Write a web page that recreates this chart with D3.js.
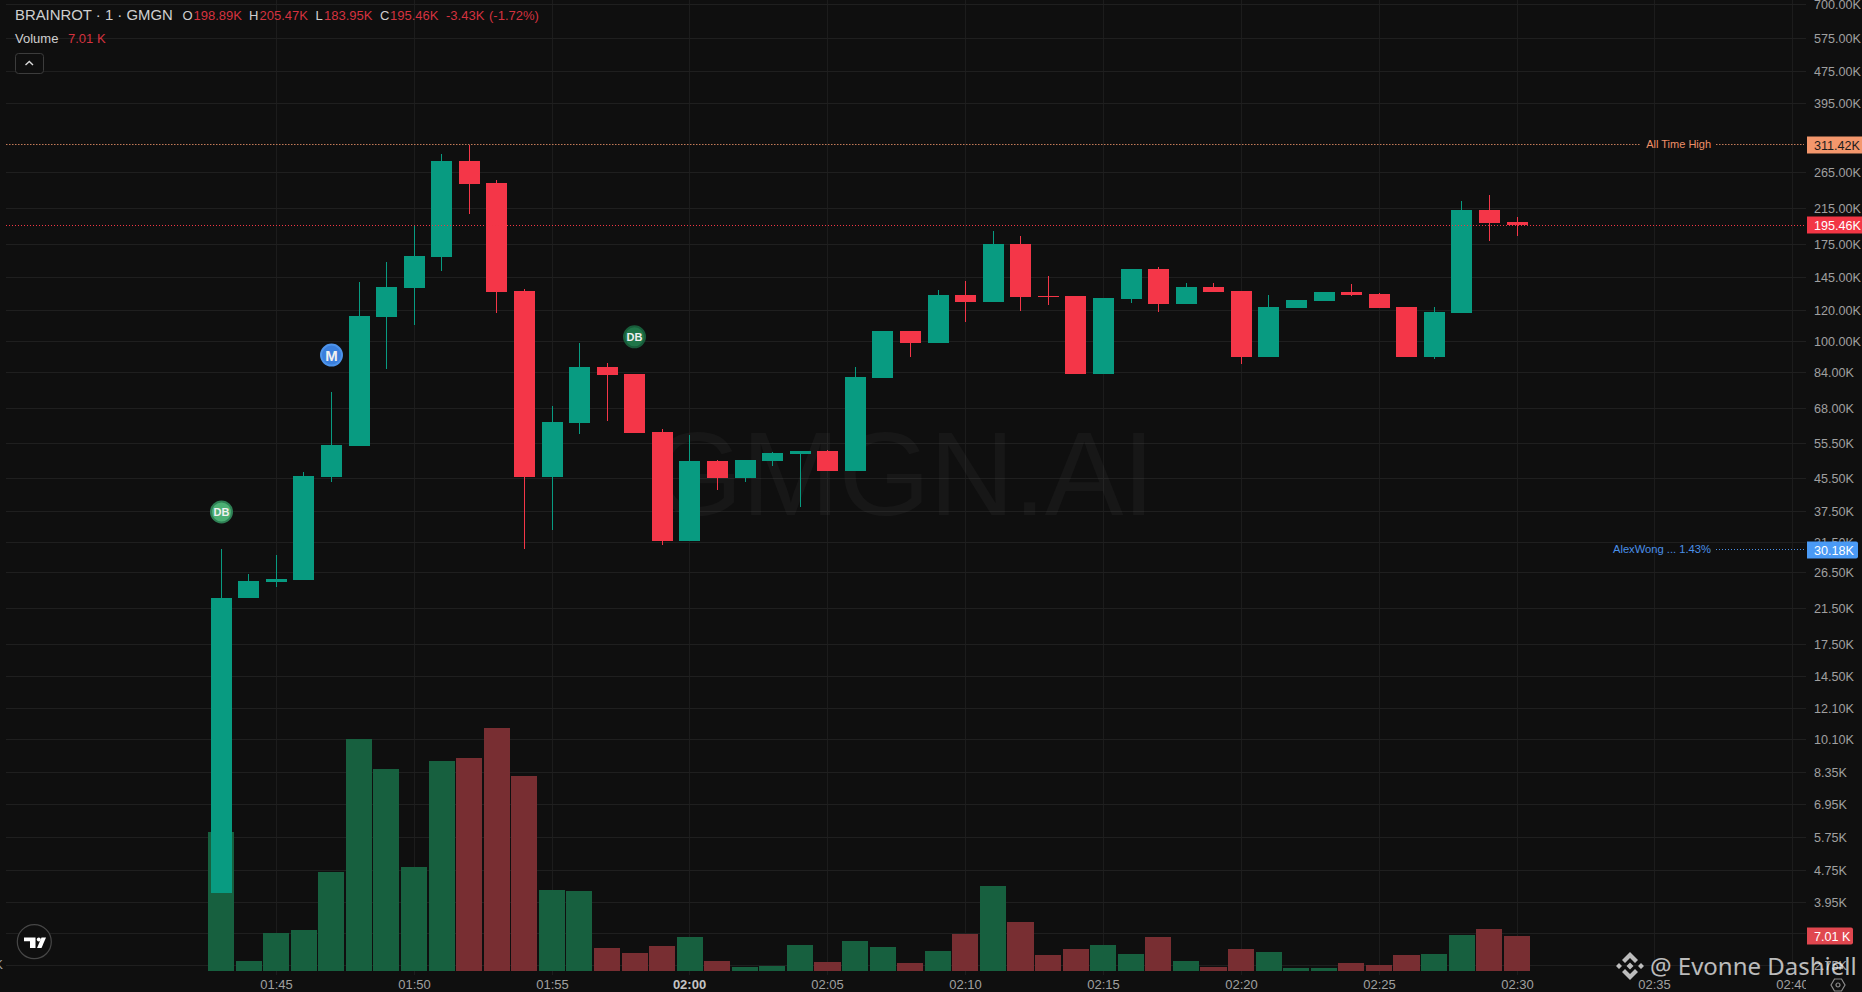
<!DOCTYPE html>
<html><head><meta charset="utf-8">
<script src="https://cdn.jsdelivr.net/npm/d3@7"></script>
<style>
html,body{margin:0;padding:0;background:#0f0f0f;overflow:hidden}
svg{display:block;font-family:"Liberation Sans",Arial,sans-serif}
</style></head><body>
<svg id="c" width="1862" height="992"></svg>
<script>
const times=["01:43","01:44","01:45","01:46","01:47","01:48","01:49","01:50","01:51","01:52","01:53","01:54","01:55","01:56","01:57","01:58","01:59","02:00","02:01","02:02","02:03","02:04","02:05","02:06","02:07","02:08","02:09","02:10","02:11","02:12","02:13","02:14","02:15","02:16","02:17","02:18","02:19","02:20","02:21","02:22","02:23","02:24","02:25","02:26","02:27","02:28","02:29","02:30"];
const opens=[4.18,22.8,25.0,25.3,45.9,54.8,115.3,136.2,162.8,283.1,249.4,133.9,45.9,62.6,86.4,83.0,59.4,31.7,50.3,45.6,50.3,52.4,53.3,47.5,81.1,106.3,99.2,130.8,125.7,175.5,130.1,130.1,83.0,127.9,152.0,124.2,137.0,133.9,91.5,121.4,126.4,133.1,131.6,122.1,91.5,117.9,213.5,198.89];
const highs=[30.3,26.2,29.3,47.2,74.8,141.0,158.2,195.5,294.8,311.42,253.8,135.4,69.0,99.2,88.4,83.0,60.5,58.4,50.6,50.6,53.0,53.3,53.6,86.4,106.3,106.3,134.7,141.8,189.2,183.8,146.0,130.1,128.6,152.0,153.7,140.2,140.2,133.9,130.8,127.1,133.1,139.4,132.3,122.1,122.1,224.8,232.7,205.47];
const lows=[4.18,22.8,24.4,25.3,44.6,54.8,85.4,110.1,150.2,208.6,117.9,30.3,33.8,58.7,63.3,59.1,31.0,31.7,42.5,44.6,48.9,38.6,47.5,47.5,81.1,91.5,99.2,112.0,125.7,119.3,123.5,83.0,83.0,124.9,118.6,124.2,133.1,87.9,91.5,121.4,126.4,130.1,121.4,91.5,90.5,117.9,178.6,183.95];
const closes=[22.9,25.2,25.5,46.1,55.1,115.9,137.0,163.8,283.1,248.0,133.1,45.9,63.0,86.4,82.5,59.1,31.7,50.3,45.6,50.6,52.7,53.3,47.5,81.6,106.3,99.2,130.8,125.7,175.5,129.3,129.3,83.0,128.6,152.0,124.2,137.0,133.1,91.5,122.1,127.1,133.1,130.8,121.4,91.5,118.6,213.5,198.1,195.46];
const volumes=[27.8,2.0,7.6,8.2,19.8,46.4,40.4,20.8,42.0,42.6,48.6,39.0,16.2,16.0,4.6,3.6,5.0,6.8,2.0,0.8,1.0,5.2,1.8,6.0,4.8,1.6,4.0,7.4,17.0,9.8,3.2,4.4,5.2,3.4,6.8,2.0,0.8,4.4,3.8,0.6,0.6,1.6,1.2,3.2,3.4,7.2,8.4,7.01];
const priceTicks=[700,575,475,395,265,215,175,145,120,100,84,68,55.5,45.5,37.5,31.5,26.5,21.5,17.5,14.5,12.1,10.1,8.35,6.95,5.75,4.75,3.95,3.3,2.75];
const timeTicks=["01:45","01:50","01:55","02:00","02:05","02:10","02:15","02:20","02:25","02:30","02:35","02:40"];
const lastClose=195.46, athPrice=311.42, holderPrice=30.18, lastVolume=7.01;
const badges=[{t:"01:43",p:37.5,k:"DB",f:"#4caf74",s:"#2f8055"},{t:"01:47",p:92.6,k:"M",f:"#3a7fdc",s:"#4d93ea"},{t:"01:58",p:102.9,k:"DB",f:"#1f7548",s:"#185c3a"}];

const W=1862,H=992,plotL=6,plotR=1806,axisY=975;
const pt=d3.utcParse("%H:%M"), fmt=d3.utcFormat("%H:%M");
const svg=d3.select("#c");
svg.append("defs").append("clipPath").attr("id","plot").append("rect").attr("x",0).attr("y",0).attr("width",plotR).attr("height",H);

const x=d3.scaleUtc().domain([pt("01:43"),pt("02:40")]).range([221.25,1792.74]);
const y=d3.scaleLog().domain([716.4,2.5]).range([0,982.0]);
const yv=d3.scaleLinear().domain([0,48.6]).range([971,728]);
const K=v=>v.toFixed(2)+"K";
const GRID="#1f1f1f", TXT="#a0a0a0";
const GREEN="#089b81", RED="#f43648", VG="#17603f", VR="#782e32";

// grid + axes
const gx=svg.append("g").attr("clip-path","url(#plot)").append("g").attr("transform",`translate(0,${axisY})`)
 .call(d3.axisBottom(x).tickValues(timeTicks.map(pt)).tickSize(-axisY).tickPadding(10).tickFormat(fmt));
gx.select(".domain").remove();
gx.selectAll(".tick").attr("transform",d=>`translate(${Math.floor(x(d))+.5},0)`);
gx.selectAll("line").attr("stroke","#1c1c1c");
gx.selectAll("text").attr("fill",d=>fmt(d)==="02:00"?"#c4c4c4":TXT).attr("font-size",13)
 .attr("font-weight",d=>fmt(d)==="02:00"?"700":"400").attr("font-family","Liberation Sans").attr("dy",".32em");

const gy=svg.append("g").attr("transform",`translate(${plotR},0)`)
 .call(d3.axisRight(y).tickValues(priceTicks).tickSize(-(plotR-plotL)).tickPadding(8).tickFormat(K));
gy.select(".domain").remove();
gy.selectAll(".tick").attr("transform",d=>`translate(0,${Math.floor(y(d))+.5})`);
gy.selectAll("line").attr("stroke",GRID);
gy.selectAll("text").attr("fill",TXT).attr("font-size",12.6).attr("font-family","Liberation Sans");

// watermark
svg.append("text").attr("x",651).attr("y",515).attr("font-size",118).attr("fill","rgba(255,255,255,0.035)")
 .attr("textLength",504).attr("lengthAdjust","spacing").text("GMGN.AI");

// volume
svg.append("g").selectAll("rect").data(volumes).join("rect")
 .attr("x",(d,i)=>Math.round(x(pt(times[i]))-13.3))
 .attr("width",(d,i)=>Math.round(x(pt(times[i]))+12.8)-Math.round(x(pt(times[i]))-13.3))
 .attr("y",d=>Math.round(yv(d)))
 .attr("height",d=>yv(0)-Math.round(yv(d)))
 .attr("fill",(d,i)=>closes[i]>=opens[i]?VG:VR);

// candles
const cg=svg.append("g").selectAll("g").data(times).join("g");
cg.append("rect")
 .attr("x",t=>Math.floor(x(pt(t)))).attr("width",1)
 .attr("y",(t,i)=>Math.round(y(highs[i])))
 .attr("height",(t,i)=>Math.round(y(lows[i]))-Math.round(y(highs[i])))
 .attr("fill",(t,i)=>closes[i]>=opens[i]?GREEN:RED);
cg.append("rect")
 .attr("x",t=>Math.floor(x(pt(t)))-10).attr("width",21)
 .attr("y",(t,i)=>Math.round(y(Math.max(opens[i],closes[i]))))
 .attr("height",(t,i)=>Math.max(1,Math.round(y(Math.min(opens[i],closes[i])))-Math.round(y(Math.max(opens[i],closes[i])))))
 .attr("fill",(t,i)=>closes[i]>=opens[i]?GREEN:RED);

// price lines
const hline=(p,x1,x2,c,dash)=>svg.append("line").attr("x1",x1).attr("x2",x2)
 .attr("y1",Math.floor(y(p))+.5).attr("y2",Math.floor(y(p))+.5).attr("stroke",c).attr("stroke-dasharray",dash);
hline(athPrice,plotL,1640,"#c47a58","1.5 1.5");
hline(athPrice,1716,1804,"#c47a58","1.5 1.5");
hline(lastClose,plotL,1804,"#f23645","1 2");
hline(holderPrice,1716,1804,"#4a90e8","1 2");
svg.append("text").attr("x",1711).attr("y",y(athPrice)).attr("dy",".32em").attr("text-anchor","end").attr("font-size",11).attr("fill","#ee9068").text("All Time High");
svg.append("text").attr("x",1711).attr("y",y(holderPrice)).attr("dy",".32em").attr("text-anchor","end").attr("font-size",11.2).attr("fill","#4a90e8").text("AlexWong ... 1.43%");

// axis tags
const tag=(p,scale,label,w,bg,fg,fw,r)=>{
 const c=Math.round(scale(p));
 const top=c-8.5;
 svg.append("path").attr("d",`M1807,${top}H${1807+w-r}Q${1807+w},${top} ${1807+w},${top+r}V${top+17-r}Q${1807+w},${top+17} ${1807+w-r},${top+17}H1807Z`).attr("fill",bg);
 svg.append("text").attr("x",1814).attr("y",c).attr("dy",".36em").attr("font-size",12.6).attr("fill",fg).attr("font-weight",fw).text(label);
};
tag(athPrice,y,K(athPrice),55,"#f4976c","#1c1c1c",400,0);
tag(lastClose,y,K(lastClose),55,"#f23645","#ffffff",400,0);
tag(holderPrice,y,K(holderPrice),51,"#4a9af5","#ffffff",400,2);
tag(lastVolume,yv,lastVolume.toFixed(2)+" K",46,"#e0474f","#ffffff",400,2);

// badges
const bg=svg.append("g").selectAll("g").data(badges).join("g")
 .attr("transform",d=>`translate(${Math.floor(x(pt(d.t)))+.5},${y(d.p)})`);
bg.append("circle").attr("r",10.5).attr("fill",d=>d.f).attr("stroke",d=>d.s).attr("stroke-width",2);
bg.append("text").attr("text-anchor","middle").attr("dy",".36em").attr("fill","#f0f0f0").attr("font-weight",700)
 .attr("font-size",d=>d.k==="M"?15:11).text(d=>d.k);

// legend
const leg=svg.append("g");
const lt=(tx,ty,s,c,fs)=>leg.append("text").attr("x",tx).attr("y",ty).attr("dy",".36em").attr("fill",c).attr("font-size",fs).text(s);
const L1="#cfcfcf",LR="#d4323f";
lt(15,15,"BRAINROT · 1 · GMGN",L1,14.9);
[["O",182.5,opens[47],193.5],["H",249,highs[47],259.5],["L",315.5,lows[47],324],["C",380,closes[47],390]].forEach(a=>{
 lt(a[1],15,a[0],L1,13); lt(a[3],15,K(a[2]),LR,13);
});
lt(446,15,(closes[47]-opens[47]).toFixed(2)+"K",LR,13);
lt(489,15,"(-1.72%)",LR,13);
lt(15,38.5,"Volume",L1,13);
lt(68,38.5,lastVolume.toFixed(2)+" K",LR,13);
leg.append("rect").attr("x",15.5).attr("y",53.5).attr("width",28).attr("height",20).attr("rx",3).attr("fill","#0f0f0f").attr("stroke","#3c3c3c");
leg.append("path").attr("d","M25.5,65 L29.3,61.5 L33,65").attr("fill","none").attr("stroke","#d8d8d8").attr("stroke-width",1.4);

// tradingview logo
const tv=svg.append("g");
tv.append("circle").attr("cx",34.3).attr("cy",941.7).attr("r",17).attr("fill","#0f0f0f").attr("stroke","#474747").attr("stroke-width",1.2);
tv.append("path").attr("fill","#ffffff").attr("d","M24,937.5H35.5V948H30V941.3H24Z");
tv.append("circle").attr("cx",38.8).attr("cy",939.4).attr("r",2).attr("fill","#ffffff");
tv.append("path").attr("fill","#ffffff").attr("d","M41.5,937.5H46L41.5,948H37Z");
svg.append("text").attr("x",3).attr("y",Math.floor(y(2.75))).attr("dy",".32em").attr("text-anchor","end").attr("font-size",12.6).attr("fill",TXT).text("2.75K");

// settings icon
const si=svg.append("g").attr("transform","translate(1838,985)");
si.append("path").attr("d","M-7,0 L-3.5,-6 L3.5,-6 L7,0 L3.5,6 L-3.5,6Z").attr("fill","none").attr("stroke","#8c8c8c").attr("stroke-width",1.2);
si.append("circle").attr("r",2).attr("fill","none").attr("stroke","#8c8c8c").attr("stroke-width",1.2);

// author mark
const wm=svg.append("g");
wm.append("text").attr("x",1650).attr("y",974.5).attr("font-family","Noto Sans").attr("font-size",24).attr("fill","rgba(255,255,255,0.72)").text("@ Evonne Dashiell");
const lg=wm.append("g").attr("transform","translate(1630,966)").attr("fill","rgba(255,255,255,0.72)");
lg.append("path").attr("d","M-14,0 L-11,-3 L-8,0 L-11,3Z M14,0 L11,-3 L8,0 L11,3Z M0,-3.5 L3.5,0 L0,3.5 L-3.5,0Z");
lg.append("path").attr("d","M0,-14 L8,-6 L5,-3 L0,-8 L-5,-3 L-8,-6Z M0,14 L8,6 L5,3 L0,8 L-5,3 L-8,6Z");
</script></body></html>
